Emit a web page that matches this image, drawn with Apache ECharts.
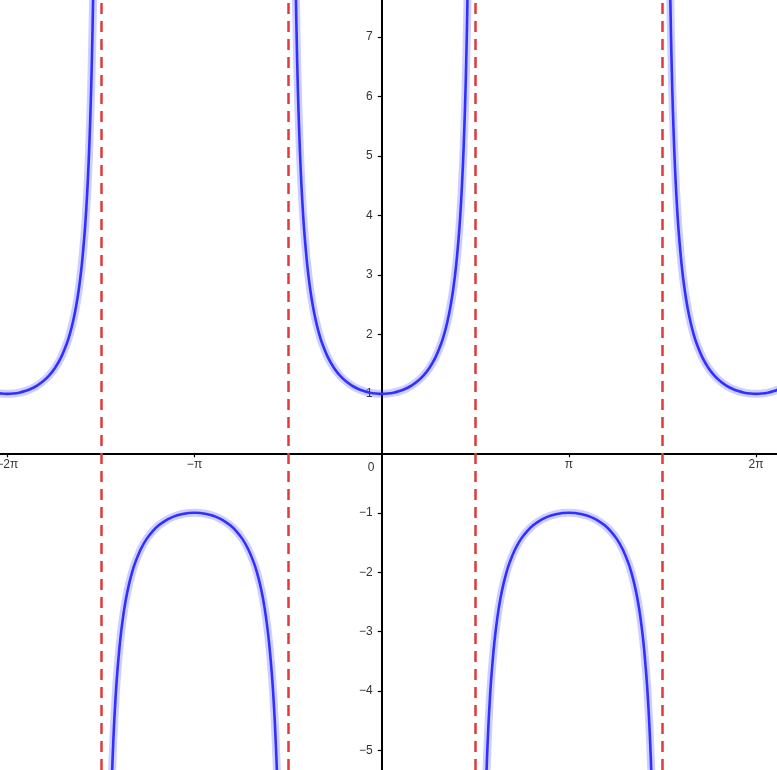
<!DOCTYPE html>
<html>
<head>
<meta charset="utf-8">
<script src="https://cdn.jsdelivr.net/npm/echarts@6/dist/echarts.min.js"></script>
<style>
  html, body { margin: 0; padding: 0; background: #fff; }
  #chart { width: 777px; height: 770px; }
</style>
</head>
<body>
<div id="chart"></div>
<script>
// ---- data (y = sec x) ----
// half-branch: offset from branch centre (radians) and |y|
const branchOffsets = [0, 0.1, 0.2, 0.3, 0.4, 0.5, 0.6, 0.7, 0.8, 0.9, 1.0, 1.05, 1.1, 1.15, 1.2, 1.25, 1.3, 1.325, 1.35, 1.375, 1.4, 1.415, 1.43, 1.445, 1.46, 1.475, 1.49];
const branchValues  = [1, 1.0050, 1.0203, 1.0468, 1.0857, 1.1395, 1.2116, 1.3075, 1.4353, 1.6087, 1.8508, 2.0098, 2.2046, 2.4481, 2.7597, 3.1714, 3.7383, 4.1097, 4.5660, 5.1400, 5.8835, 6.4446, 7.126, 7.970, 9.044, 10.455, 12.39];
const branchCentres = [-6.2832, -3.1416, 0, 3.1416, 6.2832];
const branchSigns   = [1, -1, 1, -1, 1];
const asymptotes    = [-4.7124, -1.5708, 1.5708, 4.7124];
const xTickValues   = [-6.2832, -3.1416, 3.1416, 6.2832];
const xTickLabels   = ['\u22122\u03c0', '\u2212\u03c0', '\u03c0', '2\u03c0'];
const yTickValues   = [-5, -4, -3, -2, -1, 1, 2, 3, 4, 5, 6, 7];
const xRange = [-6.406, 6.634];
const yRange = [-5.327, 7.625];

// build each branch from the read values
function branchData(i) {
  const pts = [];
  for (let k = branchOffsets.length - 1; k > 0; k--) {
    pts.push([branchCentres[i] - branchOffsets[k], branchSigns[i] * branchValues[k]]);
  }
  for (let k = 0; k < branchOffsets.length; k++) {
    pts.push([branchCentres[i] + branchOffsets[k], branchSigns[i] * branchValues[k]]);
  }
  return pts;
}

const series = [];
// asymptotes (drawn beneath)
series.push({
  type: 'line', data: [], silent: true, z: 1,
  markLine: {
    silent: true, symbol: ['none', 'none'], animation: false,
    label: { show: false },
    lineStyle: { color: '#e03a3a', width: 2.5, type: [11, 7] },
    data: asymptotes.map(v => ({ xAxis: v }))
  }
});
for (let i = 0; i < branchCentres.length; i++) {
  const d = branchData(i);
  series.push({
    type: 'line', data: d, showSymbol: false, smooth: 0.3, z: 2, silent: true,
    lineStyle: { color: 'rgba(60,60,255,0.25)', width: 8 }
  });
  series.push({
    type: 'line', data: d, showSymbol: false, smooth: 0.3, z: 3, silent: true,
    lineStyle: { color: '#3030ff', width: 2.6 }
  });
}

const labelFont = { fontFamily: 'Liberation Sans, Arial, sans-serif', fontSize: 12, color: '#333' };

const chart = echarts.init(document.getElementById('chart'));
chart.setOption({
  animation: false,
  backgroundColor: '#fff',
  grid: { left: 0, right: 0, top: 0, bottom: 0, containLabel: false, outerBoundsMode: 'none' },
  xAxis: {
    type: 'value', min: xRange[0], max: xRange[1], position: 'bottom', offset: 0,
    splitLine: { show: false },
    axisLine: { onZero: false, lineStyle: { color: '#000', width: 2 } },
    axisTick: { show: true, customValues: xTickValues, length: 4, inside: false, lineStyle: { color: '#000', width: 1.2 } },
    axisLabel: Object.assign({
      show: true, margin: 5, hideOverlap: false,
      customValues: xTickValues.concat([0]),
      showMinLabel: true, showMaxLabel: true,
      formatter: function (v) {
        if (Math.abs(v) < 1e-9) return '{z|0}';
        for (let i = 0; i < xTickValues.length; i++) {
          if (Math.abs(xTickValues[i] - v) < 1e-6) return xTickLabels[i];
        }
        return '';
      },
      rich: { z: Object.assign({ padding: [3, 21, 0, 0] }, labelFont) }
    }, labelFont)
  },
  yAxis: {
    type: 'value', min: yRange[0], max: yRange[1], position: 'left', offset: 0,
    splitLine: { show: false },
    axisLine: { onZero: false, lineStyle: { color: '#000', width: 2 } },
    axisTick: { show: true, customValues: yTickValues, length: 4, lineStyle: { color: '#000', width: 1.2 } },
    axisLabel: Object.assign({
      show: true, margin: 9, hideOverlap: false,
      customValues: yTickValues,
      showMinLabel: true, showMaxLabel: true,
      formatter: function (v) { return v < 0 ? '\u2212' + Math.abs(v) : String(v); }
    }, labelFont)
  },
  series: series
});

// move the axes so they cross at the origin (positions come from the library's scales)
const zeroX = chart.convertToPixel({ xAxisIndex: 0 }, 0);
const zeroY = chart.convertToPixel({ yAxisIndex: 0 }, 0);
const rect = chart.getModel().getComponent('grid', 0).coordinateSystem.getRect();
chart.setOption({
  xAxis: { offset: -(rect.y + rect.height - zeroY) },
  yAxis: { offset: -(zeroX - rect.x) }
});
</script>
</body>
</html>
